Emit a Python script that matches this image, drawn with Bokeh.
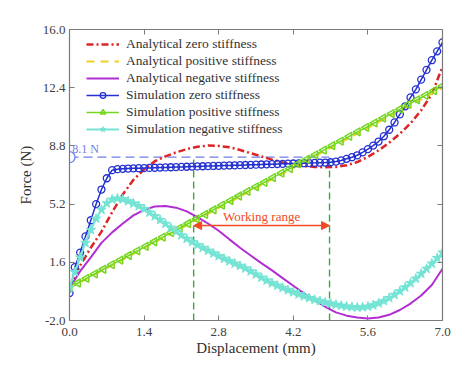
import numpy as np
from bokeh.plotting import figure
from bokeh.embed import file_html
from bokeh.resources import INLINE
from bokeh.models import (LinearAxis, FixedTicker, CustomJSTickFormatter, PrintfTickFormatter,
                          Legend, LegendItem, Label, Arrow, NormalHead)

# ---------------- data ----------------
x_ticks = [0.0, 1.4, 2.8, 4.2, 5.6, 7.0]
y_ticks = [-2.0, 1.6, 5.2, 8.8, 12.4, 16.0]

x_an = np.linspace(0, 7, 36)      # analytical samples (0.2 mm)
x_sim = np.linspace(0, 7, 71)     # simulation samples (0.1 mm)
x_pos = np.linspace(0, 7, 45)     # positive-stiffness simulation samples

an_zero = [0.0, 1.4, 2.5, 3.5, 4.7, 5.8, 6.7, 7.35, 7.85, 8.15,
           8.4, 8.6, 8.75, 8.82, 8.8, 8.72, 8.55, 8.35, 8.15, 7.95,
           7.78, 7.65, 7.55, 7.5, 7.48, 7.5, 7.6, 7.8, 8.12, 8.52,
           9.0, 9.55, 10.2, 11.0, 12.0, 13.7]
an_pos = [0.0, 0.35, 0.71, 1.06, 1.42, 1.77, 2.12, 2.48, 2.83, 3.19,
          3.54, 3.89, 4.25, 4.6, 4.96, 5.31, 5.66, 6.02, 6.37, 6.73,
          7.08, 7.43, 7.79, 8.14, 8.5, 8.85, 9.2, 9.56, 9.91, 10.27,
          10.62, 10.97, 11.33, 11.68, 12.04, 12.39]
an_neg = [0.0, 1.05, 1.9, 2.8, 3.45, 4.0, 4.5, 4.85, 5.05, 5.08,
          4.98, 4.75, 4.4, 4.0, 3.55, 3.02, 2.5, 2.02, 1.55, 1.1,
          0.62, 0.15, -0.32, -0.75, -1.15, -1.5, -1.7, -1.82, -1.88, -1.82,
          -1.65, -1.35, -0.95, -0.45, 0.2, 1.2]

sim_zero = [-0.3, 1.3, 2.2, 3.2, 4.2, 5.2, 6.1, 6.8, 7.3, 7.36,
            7.38, 7.4, 7.41, 7.42, 7.43, 7.44, 7.45, 7.46, 7.47, 7.48,
            7.49, 7.5, 7.51, 7.52, 7.53, 7.54, 7.55, 7.56, 7.57, 7.58,
            7.59, 7.6, 7.61, 7.62, 7.63, 7.64, 7.65, 7.66, 7.67, 7.68,
            7.69, 7.7, 7.71, 7.72, 7.73, 7.74, 7.75, 7.76, 7.77, 7.79,
            7.83, 7.9, 8.0, 8.1, 8.22, 8.4, 8.6, 8.82, 9.07, 9.4,
            9.8, 10.25, 10.75, 11.25, 11.8, 12.3, 12.9, 13.5, 14.1, 14.65,
            15.2]
sim_pos = [0.04, 0.32, 0.61, 0.89, 1.17, 1.46, 1.74, 2.02, 2.31, 2.59,
           2.87, 3.16, 3.44, 3.72, 4.0, 4.29, 4.57, 4.85, 5.14, 5.42,
           5.7, 5.99, 6.27, 6.55, 6.84, 7.12, 7.4, 7.69, 7.97, 8.25,
           8.54, 8.82, 9.1, 9.39, 9.67, 9.95, 10.23, 10.52, 10.8, 11.08,
           11.37, 11.65, 11.93, 12.22, 12.5]
sim_neg = [0.05, 1.0, 1.9, 2.8, 3.6, 4.3, 4.85, 5.25, 5.48, 5.55,
           5.5, 5.38, 5.24, 5.08, 4.9, 4.68, 4.45, 4.22, 3.98, 3.74,
           3.5, 3.27, 3.05, 2.86, 2.67, 2.49, 2.32, 2.15, 1.98, 1.82,
           1.67, 1.52, 1.38, 1.22, 1.04, 0.85, 0.65, 0.47, 0.31, 0.16,
           0.02, -0.12, -0.25, -0.38, -0.5, -0.61, -0.71, -0.8, -0.88, -0.95,
           -1.02, -1.08, -1.13, -1.17, -1.19, -1.18, -1.14, -1.06, -0.94, -0.79,
           -0.61, -0.41, -0.19, 0.05, 0.31, 0.59, 0.89, 1.2, 1.52, 1.86,
           2.2]

working_range = [2.33, 4.88]
ref_force = 8.1
arrow_force = 3.87
range_label_force = 4.43

labels = ["Analytical zero stiffness", "Analytical positive stiffness",
          "Analytical negative stiffness", "Simulation zero stiffness",
          "Simulation positive stiffness", "Simulation negative stiffness"]

# ---------------- styles ----------------
FONT = "Liberation Serif"
RED = "#dd2424"
YELLOW = "#f2d024"
PURPLE = "#b02ed2"
BLUE = "#2430d0"
GREEN = "#74d620"
CYAN = "#74e4d4"
LBLUE = "#6f7fe8"
DGREEN = "#3aa83a"
ORANGE = "#f04a24"
AX = "#7a7a7a"

p = figure(width=466, height=374, x_range=(0, 7), y_range=(-2, 16),
           output_backend="svg", toolbar_location=None,
           min_border_left=69, min_border_right=24, min_border_top=29, min_border_bottom=54,
           background_fill_color="white", border_fill_color="white")
p.xgrid.visible = False
p.ygrid.visible = False
p.outline_line_color = None

bottom_ax = p.below[0]
left_ax = p.left[0]
bottom_ax.axis_label = "Displacement (mm)"
left_ax.axis_label = "Force (N)"
bottom_ax.ticker = FixedTicker(ticks=x_ticks)
left_ax.ticker = FixedTicker(ticks=y_ticks)
bottom_ax.formatter = PrintfTickFormatter(format="%.1f")
left_ax.formatter = PrintfTickFormatter(format="%.1f")

top_ax = LinearAxis(ticker=FixedTicker(ticks=x_ticks),
                    formatter=CustomJSTickFormatter(code="return ''"))
right_ax = LinearAxis(ticker=FixedTicker(ticks=y_ticks),
                      formatter=CustomJSTickFormatter(code="return ''"))
p.add_layout(top_ax, "above")
p.add_layout(right_ax, "right")

for ax in [bottom_ax, left_ax, top_ax, right_ax]:
    ax.axis_line_color = AX
    ax.axis_line_width = 1.2
    ax.major_tick_line_color = AX
    ax.major_tick_in = 5
    ax.major_tick_out = 0
    ax.minor_tick_line_color = None
    ax.major_label_text_font = FONT
    ax.major_label_text_font_size = "13px"
    ax.major_label_text_color = "#404040"
    ax.axis_label_text_font = FONT
    ax.axis_label_text_font_size = "15px"
    ax.axis_label_text_font_style = "normal"
    ax.axis_label_text_color = "#303030"
top_ax.major_label_standoff = 0
right_ax.major_label_standoff = 0
bottom_ax.major_label_standoff = 7
bottom_ax.axis_label_standoff = 1
left_ax.major_label_standoff = 4
left_ax.axis_label_standoff = 6

# ---------------- annotation lines ----------------
p.segment(x0=working_range, y0=[-2, -2], x1=working_range, y1=[ref_force, ref_force],
          line_color=DGREEN, line_width=1.4, line_dash="7 4")
p.segment(x0=[0], y0=[ref_force], x1=[working_range[1]], y1=[ref_force],
          line_color=LBLUE, line_width=1.3, line_dash="9 5")

# ---------------- curves ----------------
r_red = p.line(x_an, an_zero, line_color=RED, line_width=2.5, line_dash="7 3 2 3")
r_yel = p.line(x_an, an_pos, line_color=YELLOW, line_width=2, line_dash="8 6")
r_pur = p.line(x_an, an_neg, line_color=PURPLE, line_width=2)

r_blue_l = p.line(x_sim, sim_zero, line_color=BLUE, line_width=1.5)
r_blue_m = p.scatter(x_sim, sim_zero, marker="circle", size=7, fill_alpha=0,
                     line_color=BLUE, line_width=1.3)
r_grn_l = p.line(x_pos, sim_pos, line_color=GREEN, line_width=1.5)
r_grn_m = p.scatter(x_pos, sim_pos, marker="triangle", size=8, angle=np.pi / 2,
                    fill_alpha=0, line_color=GREEN, line_width=1.5)
r_cyn_l = p.line(x_sim, sim_neg, line_color=CYAN, line_width=2)
r_cyn_m = p.scatter(x_sim, sim_neg, marker="star", size=10, fill_color=CYAN,
                    line_color=CYAN, line_width=1)

# reference force marker and label
p.scatter([0], [ref_force], marker="circle", size=11, fill_color="white",
          line_color=LBLUE, line_width=1.3)
p.add_layout(Label(x=0.05, y=ref_force, y_offset=1, text=f"{ref_force} N",
                   text_font=FONT, text_font_size="12px", text_color=LBLUE,
                   text_baseline="bottom", text_align="left"))

# working range arrow
p.add_layout(Arrow(start=NormalHead(size=8, fill_color=ORANGE, line_color=ORANGE),
                   end=NormalHead(size=8, fill_color=ORANGE, line_color=ORANGE),
                   x_start=working_range[0], y_start=arrow_force,
                   x_end=working_range[1], y_end=arrow_force,
                   line_color=ORANGE, line_width=1.5))
p.add_layout(Label(x=sum(working_range) / 2, y=range_label_force, text="Working range",
                   text_font=FONT, text_font_size="13px", text_color=ORANGE,
                   text_baseline="middle", text_align="center"))

# ---------------- legend ----------------
legend = Legend(items=[
    LegendItem(label=labels[0], renderers=[r_red]),
    LegendItem(label=labels[1], renderers=[r_yel]),
    LegendItem(label=labels[2], renderers=[r_pur]),
    LegendItem(label=labels[3], renderers=[r_blue_l, r_blue_m]),
    LegendItem(label=labels[4], renderers=[r_grn_l, r_grn_m]),
    LegendItem(label=labels[5], renderers=[r_cyn_l, r_cyn_m]),
], location=(17, 183))
legend.margin = 0
legend.padding = 0
legend.spacing = 1
legend.glyph_width = 33
legend.glyph_height = 14
legend.label_height = 14
legend.label_standoff = 7
legend.label_text_font = FONT
legend.label_text_font_size = "13.5px"
legend.label_text_color = "#333333"
legend.background_fill_alpha = 0
legend.border_line_alpha = 0
p.add_layout(legend)

open("out.html", "w").write(file_html(p, INLINE))
